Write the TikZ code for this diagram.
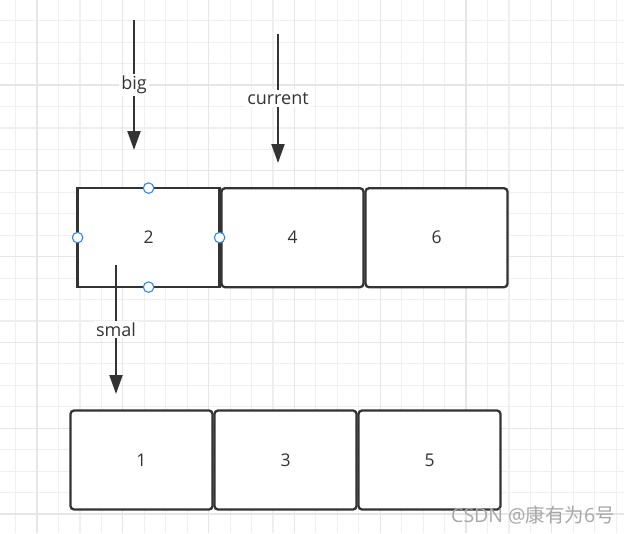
\documentclass[tikz,border=0pt]{standalone}
\usepackage{fontspec}
\setmainfont{Open Sans}
\newfontfamily\cjk{Noto Sans CJK SC}
\usetikzlibrary{arrows.meta}
\definecolor{ink}{HTML}{333333}
\definecolor{gridc}{HTML}{EFEFEF}
\definecolor{gridd}{HTML}{E6E6E6}
\definecolor{handlec}{HTML}{2F87F5}
\definecolor{wmark}{HTML}{A8A8A8}
\tikzset{
  gridl/.style={draw=gridc, line width=1.1pt},
  gridm/.style={draw=gridd, line width=1.2pt},
  cell/.style={draw=ink, line width=2.3pt, fill=white, minimum width=142pt, minimum height=99pt, inner sep=0pt, outer sep=0pt, text=ink, font=\fontsize{17.5}{20}\selectfont},
  rcell/.style={cell, rounded corners=3.5pt},
  handle/.style={circle, draw=handlec, fill=white, line width=1.1pt, minimum size=10.5pt, inner sep=0pt},
  arr/.style={draw=ink, line width=2.2pt, -{Triangle[length=19pt,width=13pt]}},
  lab/.style={fill=white, text=ink, inner sep=2pt, font=\fontsize{18}{20}\selectfont}
}
\begin{document}
\begin{tikzpicture}[x=1pt,y=-1pt]
\useasboundingbox (0,0) rectangle (624,533);
\fill[white] (0,0) rectangle (624,533);
% grid
\foreach \k in {0,...,28} \draw[gridl] (15.6+21.45*\k,0) -- (15.6+21.45*\k,533);
\foreach \k in {-1,...,24} \draw[gridl] (0,20.7+21.45*\k) -- (624,20.7+21.45*\k);
\foreach \k in {1,5,...,25} \draw[gridm] (15.6+21.45*\k,0) -- (15.6+21.45*\k,533);
\foreach \k in {-1,3,...,23} \draw[gridm] (0,20.7+21.45*\k) -- (624,20.7+21.45*\k);

% top row
\node[rcell] (b4) at (292.5,237.7) {4};
\node[rcell] (b6) at (436.5,237.7) {6};
\node[cell]  (b2) at (148.6,237.6) {2};
% bottom row
\node[rcell] (b1) at (141.5,460) {1};
\node[rcell] (b3) at (285.5,460) {3};
\node[rcell] (b5) at (429.5,460) {5};

% arrows
\coordinate (bigs) at (134,20);
\coordinate (bige) at (134,150);
\draw[arr] (bigs) -- node[lab, pos=0.5] (lbig) {big} (bige);
\coordinate (curs) at (278,34);
\coordinate (cure) at (278,163);
\draw[arr] (curs) -- node[lab, pos=0.5] (lcur) {current} (cure);
\coordinate (sms) at (116,265);
\coordinate (sme) at (116,394);
\draw[arr] (sms) -- node[lab, pos=0.5] (lsm) {smal} (sme);

% selection handles
\node[handle] (hn) at (b2.north) {};
\node[handle] (hs) at (b2.south) {};
\node[handle] (hw) at (b2.west) {};
\node[handle] (he) at (b2.east) {};

% watermark
\node[anchor=west, text=wmark, inner sep=0pt, font=\fontsize{19.5}{22}\selectfont] (wm) at (451,515) {CSDN @{\cjk 康有为}6{\cjk 号}};
\end{tikzpicture}
\end{document}
